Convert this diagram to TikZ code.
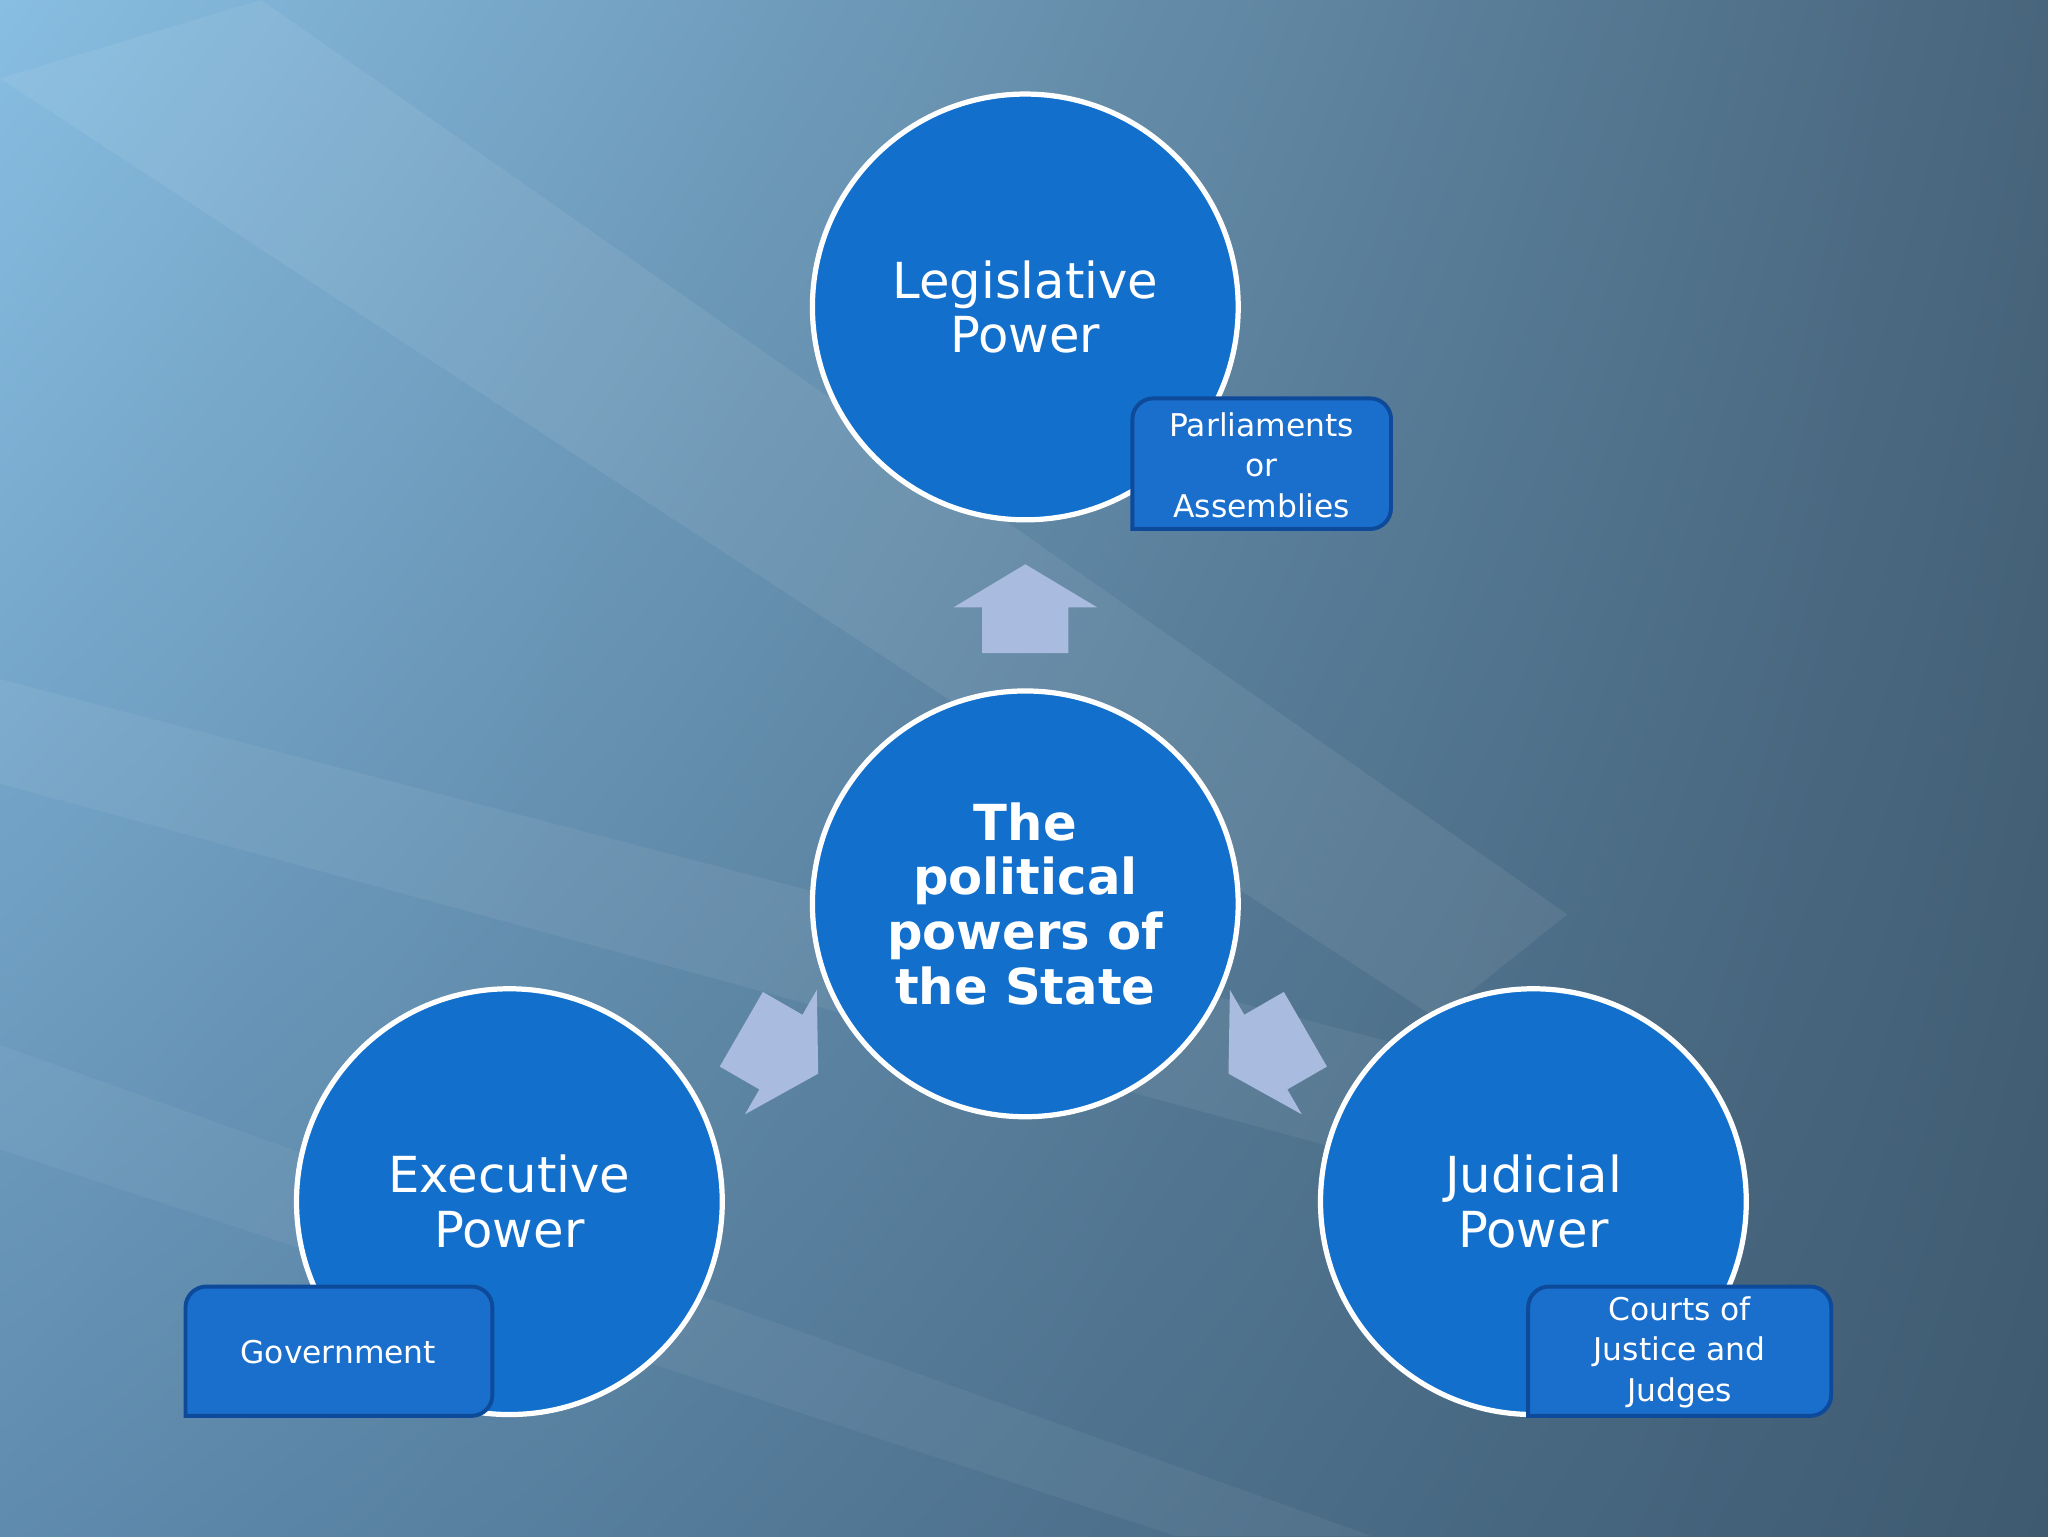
\documentclass[tikz,border=0pt]{standalone}
\usepackage{fontspec}
\usetikzlibrary{shadings}
\setmainfont{DejaVu Sans}
\definecolor{bgl}{HTML}{88BEE2}
\definecolor{bgd}{HTML}{3E5A70}
\definecolor{bgur}{HTML}{48657C}
\definecolor{bgll}{HTML}{5F8BAE}
\definecolor{circ}{HTML}{1270CC}
\definecolor{boxf}{HTML}{1A6FCC}
\definecolor{boxd}{HTML}{0D4A9A}
\definecolor{arr}{HTML}{A9BBDF}
\tikzset{
 pow/.style={circle,draw=white,line width=4pt,fill=circ,minimum size=326pt,text=white,align=center,font=\fontsize{38}{42}\selectfont},
 labtxt/.style={text=white,align=center,font=\fontsize{24}{31}\selectfont},
 labbox/.style={draw=boxd,line width=3pt,fill=boxf},
 arrw/.pic={\fill[arr] (0,-34) -- (55,-1) -- (33,-1) -- (33,34) -- (-33,34) -- (-33,-1) -- (-55,-1) -- cycle;}
}
\begin{document}
\begin{tikzpicture}[x=1pt,y=-1pt]
\useasboundingbox (0,0) rectangle (1568,1176);
\shade[upper left=bgl,upper right=bgur,lower left=bgll,lower right=bgd] (0,0) rectangle (1568,1176);
\fill[white,opacity=0.07] (0,60) -- (200,0) -- (1200,700) -- (1100,780) -- cycle;
\fill[white,opacity=0.06] (0,520) -- (0,600) -- (1100,900) -- (1150,820) -- cycle;
\fill[white,opacity=0.05] (0,800) -- (0,880) -- (900,1176) -- (1050,1176) -- cycle;
\node[pow] (leg) at (785,235) {Legislative\\Power};
\node[pow] (st) at (785,692) {\bfseries The\\\bfseries political\\\bfseries powers of\\\bfseries the State};
\node[pow] (ex) at (390,920) {Executive\\Power};
\node[pow] (ju) at (1174,920) {Judicial\\Power};
\pic at (785,466) {arrw};
\pic[rotate=240] at (597,805) {arrw};
\pic[rotate=120] at (970,805) {arrw};
\draw[labbox] (867,405) {[rounded corners=16pt] -- (867,305) -- (1065,305)} {[rounded corners=16pt] -- (1065,405)} -- cycle;
\node[labtxt] (parl) at (966,356) {Parliaments\\or\\Assemblies};
\draw[labbox] (142,1084) {[rounded corners=16pt] -- (142,985) -- (377,985)} {[rounded corners=16pt] -- (377,1084)} -- cycle;
\node[labtxt] (gov) at (259,1035) {Government};
\draw[labbox] (1170,1084) {[rounded corners=16pt] -- (1170,985) -- (1402,985)} {[rounded corners=16pt] -- (1402,1084)} -- cycle;
\node[labtxt] (cj) at (1286,1035) {Courts of\\Justice and\\Judges};
\end{tikzpicture}
\end{document}
